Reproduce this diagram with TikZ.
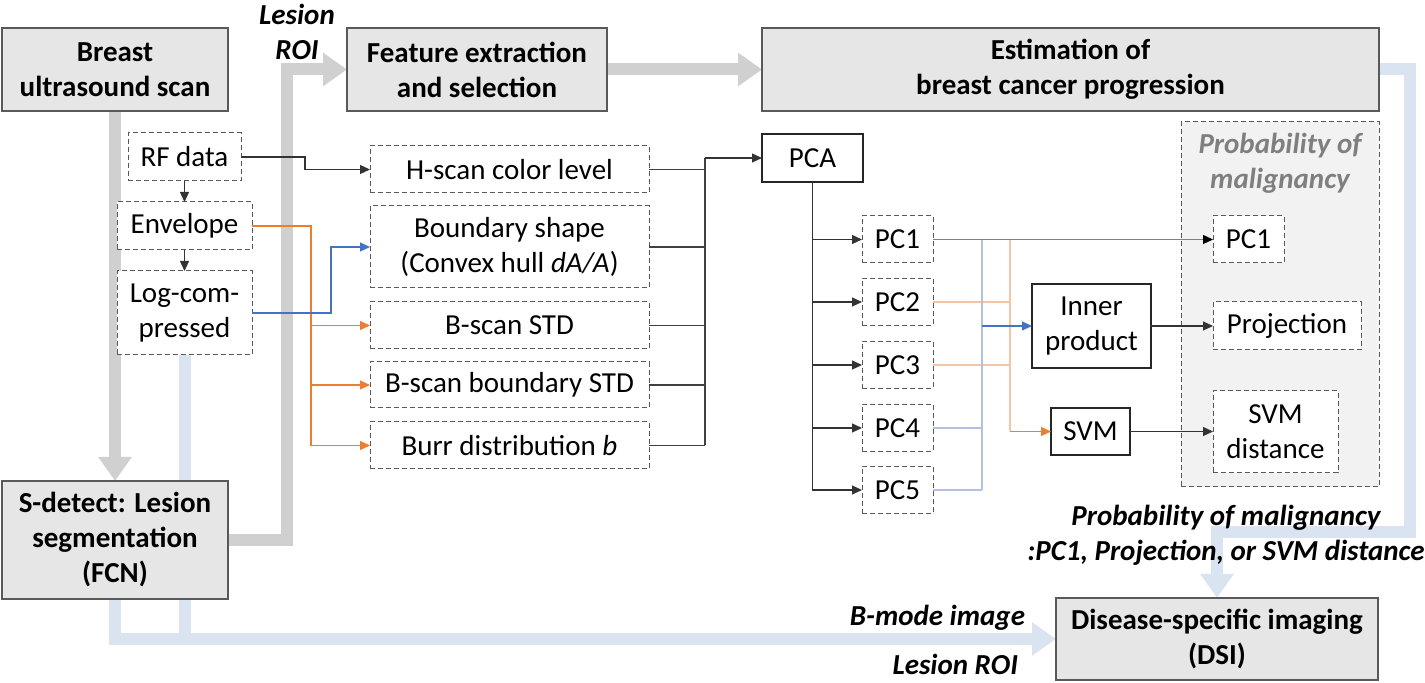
\documentclass[tikz,border=0pt]{standalone}
\usepackage{fontspec}
\setmainfont{Carlito}
\usetikzlibrary{arrows.meta,backgrounds}
\definecolor{boxgray}{HTML}{E7E6E6}
\definecolor{bordergray}{HTML}{595959}
\definecolor{flowgray}{HTML}{D0D0D0}
\definecolor{flowblue}{HTML}{DAE3F0}
\definecolor{ored}{HTML}{ED7D31}
\definecolor{oblue}{HTML}{4472C4}
\definecolor{lblue}{HTML}{B4BFE2}
\definecolor{lorange}{HTML}{F5C4A2}
\definecolor{pgray}{HTML}{F2F2F2}
\definecolor{titlegray}{HTML}{7F7F7F}
\newcommand{\mainsz}{\fontsize{14.5pt}{17.5pt}\selectfont}
\begin{document}
\begin{tikzpicture}[x=0.5pt,y=-0.5pt,
  every node/.style={font=\mainsz, inner sep=0pt, outer sep=0pt, align=center},
  stage/.style={draw=bordergray, line width=0.75pt, fill=boxgray, font=\mainsz\bfseries},
  dbox/.style={draw=bordergray, line width=0.5pt, dash pattern=on 2.5pt off 1.5pt, fill=white},
  sbox/.style={draw=black!85, line width=0.6pt, fill=white},
  lbl/.style={font=\mainsz\bfseries\itshape},
  flowarrow/.style={line width=6pt, line join=miter, -{Triangle[width=16pt,length=12pt]}},
  flowg/.style={flowarrow, draw=flowgray},
  flowb/.style={flowarrow, draw=flowblue},
  conn/.style={line width=0.6pt, draw=black!80, -{Triangle[width=4.5pt,length=5pt]}},
  gline/.style={line width=0.6pt, draw=black!75},
  lbline/.style={line width=0.7pt, draw=lblue},
  loline/.style={line width=0.7pt, draw=lorange},
]
\useasboundingbox (0,0) rectangle (1425,683);

% container
\node[dbox, fill=pgray, minimum width=99pt, minimum height=182.5pt] (prob) at (1280,304.5) {};

% stage boxes
\node[stage, minimum width=113pt, minimum height=41.5pt] (breast) at (115,69.5) {Breast\\ultrasound scan};
\node[stage, minimum width=130pt, minimum height=41.5pt] (feat) at (477,69.5) {Feature extraction\\and selection};
\node[stage, minimum width=308.5pt, minimum height=41.5pt] (est) at (1070.5,69.5) {Estimation of\\breast cancer progression};
\node[stage, minimum width=113pt, minimum height=59pt] (sdet) at (115,540) {S-detect: Lesion\\segmentation\\(FCN)};
\node[stage, minimum width=161pt, minimum height=41pt] (dsi) at (1217,639) {Disease-specific imaging\\(DSI)};

% left column
\node[dbox, minimum width=56.5pt, minimum height=24pt] (rf) at (184.5,157) {RF data};
\node[dbox, minimum width=67.5pt, minimum height=24pt] (env) at (184.5,226) {Envelope};
\node[dbox, minimum width=67.5pt, minimum height=42pt] (log) at (184.5,313) {Log-com-\\pressed};

% thick flows (behind the boxes)
\begin{pgfonlayer}{background}
\draw[flowg] (breast.south) -- (sdet.north);
\draw[flowg] (sdet.east) -| (287,69.5) -- (feat.west);
\draw[flowg] (feat.east) -- (est.west);
\draw[flowb] (est.east) -- (1410,69.5) |- (1217,532) -- (dsi.north);
\draw[flowb] (sdet.south) |- (dsi.west);
\draw[flowb, -] (log.south) -- (184.5,639);
\end{pgfonlayer}

% features
\node[dbox, minimum width=139.5pt, minimum height=23.5pt] (hscan) at (509.5,169.5) {H-scan color level};
\node[dbox, minimum width=139.5pt, minimum height=41pt] (bshape) at (509.5,247) {Boundary shape\\(Convex hull \textit{dA/A})};
\node[dbox, minimum width=139.5pt, minimum height=23.5pt] (bstd) at (509.5,325.5) {B-scan STD};
\node[dbox, minimum width=139.5pt, minimum height=23pt] (bbstd) at (509.5,385) {B-scan boundary STD};
\node[dbox, minimum width=139.5pt, minimum height=23.5pt] (burr) at (509.5,445.5) {Burr distribution \textit{b}};

% PCA and PCs
\node[sbox, minimum width=50.5pt, minimum height=24pt] (pca) at (812.5,158) {PCA};
\node[dbox, minimum width=35.5pt, minimum height=23.5pt] (pc1) at (897.5,239.5) {PC1};
\node[dbox, minimum width=35.5pt, minimum height=23.5pt] (pc2) at (897.5,302) {PC2};
\node[dbox, minimum width=35.5pt, minimum height=23.5pt] (pc3) at (897.5,365) {PC3};
\node[dbox, minimum width=35.5pt, minimum height=23.5pt] (pc4) at (897.5,428) {PC4};
\node[dbox, minimum width=35.5pt, minimum height=23.5pt] (pc5) at (897.5,490) {PC5};

\node[sbox, minimum width=59.5pt, minimum height=42pt] (inner) at (1091.5,326) {Inner\\product};
\node[sbox, minimum width=39.5pt, minimum height=23.5pt] (svm) at (1090.5,431.5) {SVM};

% outputs
\node[dbox, minimum width=35.5pt, minimum height=23.5pt] (o1) at (1248.5,239.5) {PC1};
\node[dbox, minimum width=74pt, minimum height=24pt] (proj) at (1287,326) {Projection};
\node[dbox, minimum width=62.5pt, minimum height=41pt] (svmd) at (1275.5,432) {SVM\\distance};

% labels
\node[lbl] (lroi) at (297,32) {Lesion\\ROI};
\node[lbl, text=titlegray] (ptitle) at (1280,163) {Probability of\\malignancy};
\node[lbl] (pm) at (1226,535) {Probability of malignancy\\:PC1, Projection, or SVM distance};
\node[lbl, anchor=east] (bm) at (1025,618) {B-mode image};
\node[lbl, anchor=east] (lr) at (1018,664) {Lesion ROI};

% thin connectors - left
\draw[conn] (rf.east) -- (305,157) |- (hscan.west);
\draw[conn] (rf.south) -- (env.north);
\draw[conn] (env.south) -- (log.north);
\coordinate (ov) at (311,226);
\draw[conn, draw=ored] (env.east) -- (ov) |- (burr.west);
\draw[conn, draw=ored] (bstd.west -| ov) -- (bstd.west);
\draw[conn, draw=ored] (bbstd.west -| ov) -- (bbstd.west);
\draw[conn, draw=oblue] (log.east) -- (331,313) |- (bshape.west);

% features to PCA
\coordinate (fb) at (705,158);
\draw[gline] (hscan.east) -- (hscan.east -| fb);
\draw[gline] (bshape.east) -- (bshape.east -| fb);
\draw[gline] (bstd.east) -- (bstd.east -| fb);
\draw[gline] (bbstd.east) -- (bbstd.east -| fb);
\draw[gline] (burr.east) -- (burr.east -| fb);
\draw[gline] (fb) -- (burr.east -| fb);
\draw[conn] (fb) -- (pca.west);

% PCA to PCs
\draw[conn] (pca.south) |- (pc5.west);
\draw[conn] (pca.south |- pc1.west) -- (pc1.west);
\draw[conn] (pca.south |- pc2.west) -- (pc2.west);
\draw[conn] (pca.south |- pc3.west) -- (pc3.west);
\draw[conn] (pca.south |- pc4.west) -- (pc4.west);

% PCs to inner product / SVM
\coordinate (bv) at (982,0);
\coordinate (ov2) at (1010,0);
\draw[loline] (pc2.east) -- (pc2.east -| ov2);
\draw[loline] (pc3.east) -- (pc3.east -| ov2);
\draw[lbline] (pc4.east) -- (pc4.east -| bv);
\draw[lbline] (pc5.east) -- (pc5.east -| bv);
\draw[lbline] (pc1.east -| bv) -- (pc5.east -| bv);
\draw[loline] (pc1.east -| ov2) -- (svm.west -| ov2);
\draw[conn, draw=ored] (svm.west -| ov2) -- (svm.west);
\draw[conn, draw=oblue] (inner.west -| bv) -- (inner.west);
\draw[line width=0.6pt, draw=black!50, -{Triangle[width=4.5pt,length=5pt,black]}] (pc1.east) -- (o1.west);

% to outputs
\draw[conn] (inner.east) -- (proj.west);
\draw[conn] (svm.east) -- (svm.east -| svmd.west);
\end{tikzpicture}
\end{document}
